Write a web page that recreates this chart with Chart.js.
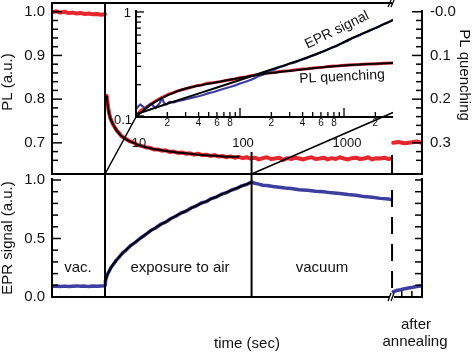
<!DOCTYPE html>
<html><head><meta charset="utf-8">
<script src="https://cdn.jsdelivr.net/npm/chart.js@4/dist/chart.umd.min.js"></script>
<style>
html,body{margin:0;padding:0;background:#fff;}
#wrap{position:relative;width:474px;height:352px;overflow:hidden;}
#wrap canvas{position:absolute;left:0;top:0;}
</style></head><body>
<div id="wrap">
<canvas id="cTop" width="474" height="352"></canvas>
<canvas id="cBot" width="474" height="352"></canvas>
<canvas id="cIn" width="474" height="352"></canvas>
</div>
<script>
// ================= DATA =================
// Top panel: PL (a.u.) vs time (sec)
const plVacTime = [-1310,-1200,-1100,-1000,-900,-800,-700,-600,-500,-400,-300,-200,-100,-3];
const plVacValue = [0.999,1.001,0.998,1.000,0.997,0.998,0.996,0.997,0.995,0.996,0.994,0.995,0.993,0.994];
const plTime = [40,60,80,100,130,160,200,250,300,350,400,500,600,700,800,900,1000,
  1100,1200,1300,1400,1500,1600,1700,1800,1900,2000,2100,2200,2300,2400,2500,2600,2700,2800,2900,3000,
  3100,3200,3300,3400,3500,3600,3700,3800,3900,4000,4100,4200,4300,4400,4500,4600,4700,4800,4900,5000,
  5100,5200,5300,5400,5500,5600,5700,5800,5900,6000,6100,6200,6300,6400,6500,6600,6700,6800,6900,7000,7070];
const plValue = [0.808,0.793,0.779,0.768,0.757,0.750,0.742,0.734,0.727,0.722,0.716,0.710,0.704,0.701,0.695,0.693,0.690,
  0.689,0.685,0.685,0.682,0.683,0.679,0.680,0.677,0.678,0.675,0.676,0.673,0.675,0.672,0.673,0.670,0.672,0.669,0.670,0.667,
  0.669,0.666,0.668,0.665,0.667,0.664,0.666,0.662,0.665,0.667,0.663,0.664,0.666,0.661,0.665,0.663,0.666,0.664,0.662,0.665,
  0.667,0.663,0.664,0.666,0.662,0.665,0.663,0.667,0.664,0.662,0.665,0.666,0.663,0.664,0.667,0.662,0.665,0.664,0.666,0.663,0.664];
const plFitTime = [45,50,60,80,100,130,160,200,250,300,400,500,600,700,800,1000,1200,1400,1600,1800,2000,2300,2600,2900,3300];
const plFitValue = [0.806,0.800,0.791,0.779,0.768,0.757,0.750,0.742,0.734,0.727,0.716,0.709,0.704,0.700,0.696,0.690,0.686,0.683,0.680,0.678,0.676,0.673,0.671,0.669,0.668];
const plAnnealTime = [7120,7250,7400,7550,7700,7830];
const plAnnealValue = [0.700,0.702,0.699,0.701,0.703,0.700];

// Bottom panel: EPR signal (a.u.) vs time (sec)
const eprTime = [-1310,-1200,-1100,-1000,-900,-800,-700,-600,-500,-400,-300,-200,-100,-3,
  0,10,30,60,100,150,200,275,350,425,500,625,750,875,1000,1125,1250,1375,1500,1625,1750,1875,2000,
  2125,2250,2375,2500,2625,2750,2875,3000,3125,3250,3375,3500,3620,
  3700,3800,3900,4000,4150,4300,4450,4600,4800,5000,5200,5400,5600,5800,6000,6200,6400,6600,6800,7000,7070];
const eprValue = [0.091,0.094,0.090,0.093,0.089,0.092,0.095,0.091,0.093,0.090,0.094,0.092,0.095,0.096,
  0.100,0.138,0.160,0.195,0.219,0.254,0.276,0.313,0.341,0.374,0.394,0.438,0.467,0.504,0.532,0.568,0.590,0.622,0.640,0.671,0.690,0.718,0.733,
  0.761,0.777,0.804,0.815,0.841,0.854,0.879,0.891,0.915,0.927,0.950,0.962,0.984,
  0.972,0.965,0.955,0.953,0.944,0.938,0.931,0.927,0.917,0.912,0.904,0.899,0.890,0.885,0.876,0.869,0.858,0.853,0.843,0.837,0.832];
const eprFitTime = [0,10,30,60,100,150,200,275,350,425,500,625,750,875,1000,1125,1250,1375,1500,1625,1750,1875,2000,
  2125,2250,2375,2500,2625,2750,2875,3000,3125,3250,3375,3500,3620];
const eprFitValue = [0.100,0.135,0.163,0.192,0.222,0.250,0.279,0.310,0.344,0.370,0.397,0.435,0.470,0.500,0.535,0.565,0.593,0.618,0.643,0.668,0.693,0.714,0.736,
  0.758,0.780,0.800,0.818,0.838,0.857,0.876,0.894,0.912,0.930,0.947,0.965,0.980];
const eprAnnealTime = [7120,7200,7300,7400,7500,7600,7700,7830];
const eprAnnealValue = [0.045,0.055,0.062,0.070,0.077,0.083,0.090,0.097];

// Inset (log-log): EPR signal and PL quenching vs time (sec)
const insetEprTime = [10,10.5,11,11.6,12.2,12.8,13.4,14,14.7,15.4,16.1,16.9,17.8,18.6,19.6,21,23,25,28,31,
  35,40,45,50,56,63,70,80,90,100,115,130,150,170,190,215,240,270,300,340,
  380,430,480,540,600,680,760,850,950,1070,1200,1350,1500,1700,1900,2100,2350,2600,2960];
const insetEprValue = [0.116,0.124,0.129,0.124,0.117,0.121,0.128,0.131,0.125,0.119,0.126,0.133,0.148,0.134,0.129,0.137,0.135,0.139,0.142,0.146,
  0.150,0.155,0.160,0.166,0.170,0.177,0.183,0.190,0.197,0.205,0.215,0.224,0.241,0.252,0.269,0.280,0.294,0.304,0.319,0.328,
  0.343,0.358,0.376,0.390,0.410,0.430,0.454,0.470,0.499,0.524,0.558,0.584,0.618,0.650,0.686,0.714,0.757,0.790,0.838];
const insetEprFitTime = [10,20,41,100,182,260,379,600,850,1143,1500,2000,2500,2960];
const insetEprFitValue = [0.104,0.131,0.166,0.222,0.271,0.305,0.345,0.410,0.474,0.550,0.620,0.700,0.772,0.838];
const insetPlTime = [10,11,12,13,14.5,16,17.5,19,21,23,26,29,33,38,43,48,55,65,75,88,
  100,115,130,150,182,215,250,300,379,450,530,630,750,900,1100,1420,1700,2000,2400,2960];
const insetPlValue = [0.099,0.112,0.118,0.125,0.134,0.142,0.150,0.155,0.163,0.168,0.176,0.181,0.188,0.195,0.199,0.206,0.209,0.214,0.221,0.226,
  0.233,0.237,0.245,0.249,0.259,0.262,0.269,0.273,0.281,0.284,0.291,0.295,0.301,0.304,0.310,0.312,0.317,0.317,0.321,0.323];
const insetPlFitTime = [10,12,15,20,27,35,48,65,100,140,182,260,379,630,1000,1420,2000,2960];
const insetPlFitValue = [0.098,0.115,0.135,0.158,0.178,0.190,0.203,0.215,0.232,0.246,0.257,0.268,0.279,0.295,0.306,0.313,0.318,0.323];

// Tick labels
const timeTickValues = [0,2000,4000,6000];
const timeTickLabels = ['0','2000','4000','6000'];
const plTickValues = [1.0,0.9,0.8,0.7];
const plTickLabels = ['1.0','0.9','0.8','0.7'];
const quenchTickValues = [0,0.1,0.2,0.3];
const quenchTickLabels = ['-0.0','0.1','0.2','0.3'];
const eprTickValues = [0,0.5,1.0];
const eprTickLabels = ['0.0','0.5','1.0'];
const annealTickTimes = [7330,7580];
const insetXMajorValues = [10,100,1000];
const insetXMajorLabels = ['10','100','1000'];
const insetXMinorValues = [20,40,60,80,200,400,600,800,2000];
const insetXMinorLabels = ['2','4','6','8','2','4','6','8','2'];
const insetXTickValues = [20,30,40,50,60,70,80,90,100,200,300,400,500,600,700,800,900,1000,2000];
const insetYTickValues = [0.1,0.2,0.3,0.4,0.5,0.6,0.7,0.8,0.9,1];

// Axis ranges / markers
const X_MIN = -1310, X_MAX = 7830, BREAK_T = 7090, EXPO_END = 3620;
const PL_MIN = 0.631, PL_MAX = 1.02;
const SEP_Y = 174;

// ================= HELPERS =================
const FONT = "'Liberation Sans', Arial, Helvetica, sans-serif";
const RED = '#e5262d', BLUE = '#3c3f9f', INK = '#111';
Chart.defaults.font.family = FONT;
Chart.defaults.color = INK;

function pts(t, v){ return t.map((x,i)=>({x:x, y:v[i]})); }
function lbl(values, labels){ return function(v){ for(let i=0;i<values.length;i++){ if(Math.abs(values[i]-v)<1e-6) return labels[i]; } return ''; }; }
function onGrid(v, step){ const q=v/step; return Math.abs(q-Math.round(q))<1e-6; }
function seg(ctx,x1,y1,x2,y2,w,dash){ ctx.save(); ctx.beginPath(); ctx.strokeStyle='#000'; ctx.lineWidth=w; ctx.lineCap='butt'; if(dash) ctx.setLineDash(dash); ctx.moveTo(x1,y1); ctx.lineTo(x2,y2); ctx.stroke(); ctx.restore(); }
function txt(ctx,s,x,y,size,rot,align){ ctx.save(); ctx.translate(x,y); ctx.rotate(rot||0); ctx.font=size+'px '+FONT; ctx.fillStyle=INK; ctx.textAlign=align||'center'; ctx.textBaseline='middle'; ctx.fillText(s,0,0); ctx.restore(); }
// order: lower number is drawn on top
function ds(data, color, width, order, smooth){ return {data:data, order:order, borderColor:color, borderWidth:width, pointRadius:0, fill:false, tension:0, cubicInterpolationMode: smooth?'monotone':'default', borderJoinStyle:'round', borderCapStyle:'round'}; }
function baseOpts(){ return {responsive:false, maintainAspectRatio:false, animation:false, devicePixelRatio:1, events:[],
  plugins:{legend:{display:false}, tooltip:{enabled:false}}}; }
function fixW(w){ return function(s){ s.width=w; s.paddingTop=0; s.paddingBottom=0; }; }
function fixH(h){ return function(s){ s.height=h; s.paddingLeft=0; s.paddingRight=0; }; }

// ================= TOP PANEL =================
const topDecor = { id:'topDecor', afterDraw(chart){
  const {ctx, chartArea:a, scales:{x,y,yq}} = chart;
  const L=a.left, R=a.right, T=a.top;
  const xb=x.getPixelForValue(BREAK_T), x0=x.getPixelForValue(0), xe=x.getPixelForValue(EXPO_END);
  seg(ctx,L,T-1,L,SEP_Y,2);
  seg(ctx,L-1,T,xb,T,2);
  seg(ctx,R,T+7,R,SEP_Y,2);
  seg(ctx,L-1,SEP_Y,R+1,SEP_Y,2);
  y.ticks.forEach(t=>{ const v=t.value; if(!onGrid(v,0.02)||v>1.0001) return; const p=y.getPixelForValue(v); seg(ctx,L,p,L+(onGrid(v,0.1)?10:6),p,1.5); });
  yq.ticks.forEach(t=>{ const v=t.value; if(!onGrid(v,0.02)||v<-1e-6) return; const p=yq.getPixelForValue(v); seg(ctx,R-(onGrid(v,0.1)?10:6),p,R,p,1.5); });
  seg(ctx,x0,T,x0,SEP_Y,2);
  seg(ctx,xe,SEP_Y-22,xe,SEP_Y,2);
  seg(ctx,xb,SEP_Y-19,xb,SEP_Y,2);
  seg(ctx,xb-4,T+4,xb-1,T-3,1.3); seg(ctx,xb-1,T+4,xb+2,T-3,1.3);
  txt(ctx,'PL (a.u.)',8,82,15,-Math.PI/2);
  txt(ctx,'PL quenching',464,75,15,Math.PI/2);
}};
const topChart = new Chart(document.getElementById('cTop'), {
  type:'line',
  data:{datasets:[
    ds(pts(plFitTime,plFitValue),'#000',2,0,true),
    ds(pts(plVacTime,plVacValue),RED,4,1),
    ds(pts(plTime,plValue),RED,4,1),
    ds(pts(plAnnealTime,plAnnealValue),RED,4,1)
  ]},
  options: Object.assign(baseOpts(), {
    layout:{padding:{top:3,bottom:179,left:0,right:0}},
    scales:{
      x:{type:'linear', display:false, min:X_MIN, max:X_MAX},
      y:{type:'linear', position:'left', min:PL_MIN, max:PL_MAX, grid:{display:false,drawTicks:false}, border:{display:false},
         ticks:{stepSize:0.02, autoSkip:false, padding:7, color:INK, font:{family:FONT,size:15}, callback:lbl(plTickValues,plTickLabels)},
         afterFit:fixW(52)},
      yq:{type:'linear', position:'right', reverse:true, min:1-PL_MAX, max:1-PL_MIN, grid:{display:false,drawTicks:false}, border:{display:false},
         ticks:{stepSize:0.02, autoSkip:false, padding:8, color:INK, font:{family:FONT,size:15}, callback:lbl(quenchTickValues,quenchTickLabels)},
         afterFit:fixW(52)}
    }
  }),
  plugins:[topDecor]
});

// ================= BOTTOM PANEL =================
const botDecor = { id:'botDecor', afterDraw(chart){
  const {ctx, chartArea:a, scales:{x,y}} = chart;
  const L=a.left, R=a.right, T=a.top, B=a.bottom;
  const xb=x.getPixelForValue(BREAK_T), x0=x.getPixelForValue(0), xe=x.getPixelForValue(EXPO_END);
  seg(ctx,L,T-2,L,B+1,2); seg(ctx,R,T-2,R,B+1,2); seg(ctx,L-1,B,R+1,B,2);
  y.ticks.forEach(t=>{ const v=t.value; if(!onGrid(v,0.1)) return; const p=y.getPixelForValue(v);
    seg(ctx,L,p,L+(onGrid(v,0.5)?9:6),p,1.5); if(v>0.05) seg(ctx,R-7,p,R,p,1.5); });
  x.ticks.forEach(t=>{ const v=t.value; if(!onGrid(v,500)||v<=X_MIN||v>=BREAK_T) return; const p=x.getPixelForValue(v);
    seg(ctx,p,B,p,B-(onGrid(v,2000)?9:6),1.5); });
  annealTickTimes.forEach(v=>{ const p=x.getPixelForValue(v); seg(ctx,p,B,p,B-6,1.5); });
  seg(ctx,x0,SEP_Y,x0,B,2);
  seg(ctx,xe,SEP_Y,xe,B,2);
  seg(ctx,xb,T+10,xb,B,2,[17,10]);
  ctx.save(); ctx.fillStyle='#fff'; ctx.fillRect(xb-2,B-2,4,4); ctx.restore();
  seg(ctx,xb-4,B+4,xb-1,B-4,1.3); seg(ctx,xb-1,B+4,xb+2,B-4,1.3);
  txt(ctx,'vac.',78,268,15);
  txt(ctx,'exposure to air',180,268,15);
  txt(ctx,'vacuum',322,268,15);
  txt(ctx,'after',416,325,15);
  txt(ctx,'annealing',415,342,15);
  txt(ctx,'time (sec)',247,344,15);
  txt(ctx,'EPR signal (a.u.)',8,238,15,-Math.PI/2);
}};
const botChart = new Chart(document.getElementById('cBot'), {
  type:'line',
  data:{datasets:[
    ds(pts(eprFitTime,eprFitValue),'#000',2,0,true),
    ds(pts(eprTime,eprValue),BLUE,3.5,1),
    ds(pts(eprAnnealTime,eprAnnealValue),BLUE,3.5,1)
  ]},
  options: Object.assign(baseOpts(), {
    layout:{padding:{top:180,bottom:0,left:0,right:0}},
    scales:{
      x:{type:'linear', position:'bottom', min:X_MIN, max:X_MAX, grid:{display:false,drawTicks:false}, border:{display:false},
         ticks:{stepSize:500, autoSkip:false, maxRotation:0, padding:10, color:INK, font:{family:FONT,size:15}, callback:lbl(timeTickValues,timeTickLabels)},
         afterFit:fixH(55)},
      y:{type:'linear', position:'left', min:0, max:1.0, grid:{display:false,drawTicks:false}, border:{display:false},
         ticks:{stepSize:0.1, autoSkip:false, padding:7, color:INK, font:{family:FONT,size:15}, callback:lbl(eprTickValues,eprTickLabels)},
         afterFit:fixW(52)},
      y2:{type:'linear', position:'right', min:0, max:1.0, grid:{display:false,drawTicks:false}, border:{display:false},
         ticks:{display:false, stepSize:0.1}, afterFit:fixW(52)}
    }
  }),
  plugins:[botDecor]
});

// ================= INSET =================
const inDecor = { id:'inDecor', afterDraw(chart){
  const {ctx, chartArea:a, scales:{x,y}} = chart;
  const L=a.left, R=a.right, T=a.top, B=a.bottom;
  seg(ctx,L,T,L,B+1,2); seg(ctx,L-1,B,R,B,2);
  insetYTickValues.forEach(v=>{ const p=y.getPixelForValue(v); const major=(Math.abs(v-0.1)<1e-9||Math.abs(v-1)<1e-9); seg(ctx,L,p,L+(major?8:5),p,1.3); });
  insetXTickValues.forEach(v=>{ const p=x.getPixelForValue(v); const major=(v===100||v===1000); seg(ctx,p,B,p,B-(major?9:5),1.3); });
  insetXMinorValues.forEach((v,i)=>txt(ctx,insetXMinorLabels[i],x.getPixelForValue(v),B+6,10));
  insetXMajorValues.forEach((v,i)=>txt(ctx,insetXMajorLabels[i],x.getPixelForValue(v)+3,B+26,13));
  txt(ctx,'1',L-5,y.getPixelForValue(1)+1,13,0,'right');
  txt(ctx,'0.1',L-4,y.getPixelForValue(0.1)+4,13,0,'right');
  const tx = topChart.scales.x;
  seg(ctx,tx.getPixelForValue(0),SEP_Y,L,B,1.5);
  seg(ctx,tx.getPixelForValue(EXPO_END),SEP_Y,R,y.getPixelForValue(0.108),1.5);
  txt(ctx,'EPR signal',337,30,14,-26*Math.PI/180);
  txt(ctx,'PL quenching',342,77,14,-3*Math.PI/180);
}};
const inChart = new Chart(document.getElementById('cIn'), {
  type:'line',
  data:{datasets:[
    ds(pts(insetEprFitTime,insetEprFitValue),'#000',2,0,true),
    ds(pts(insetPlFitTime,insetPlFitValue),'#000',2,0,true),
    ds(pts(insetEprTime,insetEprValue),BLUE,2.2,1),
    ds(pts(insetPlTime,insetPlValue),RED,3,2)
  ]},
  options: Object.assign(baseOpts(), {
    layout:{padding:{left:136,right:81,top:10,bottom:235}},
    scales:{
      x:{type:'logarithmic', display:false, min:10, max:2958},
      y:{type:'logarithmic', display:false, min:0.0978, max:1.045}
    }
  }),
  plugins:[inDecor]
});
</script>
</body></html>
